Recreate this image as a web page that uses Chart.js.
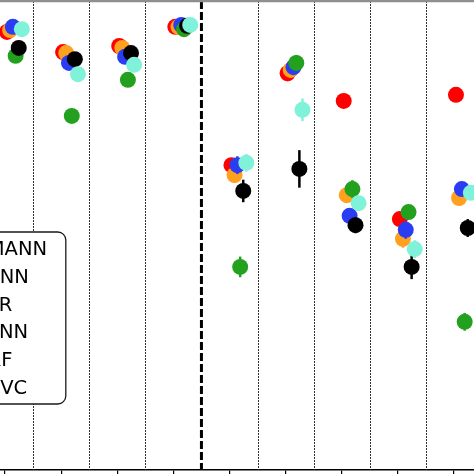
<!DOCTYPE html>
<html>
<head>
<meta charset="utf-8">
<script src="https://cdn.jsdelivr.net/npm/chart.js@4.4.0/dist/chart.umd.min.js"></script>
<style>
  html, body { margin: 0; padding: 0; background: #fff; }
  body { width: 474px; height: 474px; overflow: hidden; position: relative; }
  #chart { position: absolute; left: -200px; top: 0; }
</style>
</head>
<body>
<canvas id="chart" width="760" height="520"></canvas>
<script>
// categories along x (tick labels are cut off below the picture)
const categories = ['C1', 'C2', 'C3', 'C4', 'C5', 'C6', 'C7', 'C8', 'C9'];
const groupSplit = 3.5; // thick dashed line between the two groups

const methods = ['MANN', 'TNN', 'LR', 'FNN', 'RF', 'SVC'];
const colors = ['#ff0000', '#ffa01e', '#2b3df2', '#23a01d', '#000000', '#80f2da'];
const dodge = [0.035, 0.09, 0.14, 0.19, 0.245, 0.3]; // small shift per method inside a category

// scores per method, one per category
const mannVals = [93.4, 89.1, 90.4, 94.5, 65.0, 84.6, 78.7, 53.5, 80.0];
const tnnVals  = [93.8, 88.9, 90.0, 94.5, 62.9, 85.3, 58.6, 49.3, 58.0];
const lrVals   = [94.5, 86.8, 88.1, 94.9, 65.0, 85.9, 54.2, 51.2, 59.9];
const fnnVals  = [88.3, 75.5, 83.2, 94.0, 43.3, 86.8, 59.9, 55.0, 31.6];
const rfVals   = [90.0, 87.6, 88.9, 94.7, 59.5, 64.2, 52.2, 43.3, 51.6];
const svcVals  = [94.0, 84.4, 86.4, 94.9, 65.5, 76.8, 56.9, 47.1, 59.1];

// error bar half lengths
const mannErr = [0.6, 0.6, 0.6, 0.5, 1.1, 1.7, 0.9, 1.3, 0.9];
const tnnErr  = [0.6, 0.6, 0.6, 0.5, 1.7, 1.7, 1.5, 1.9, 1.5];
const lrErr   = [0.6, 0.6, 0.6, 0.5, 1.9, 1.7, 1.3, 1.9, 1.5];
const fnnErr  = [0.6, 0.6, 0.6, 0.5, 2.2, 1.7, 1.9, 1.3, 1.9];
const rfErr   = [0.6, 0.6, 0.6, 0.5, 2.4, 4.0, 1.7, 2.6, 1.9];
const svcErr  = [0.6, 0.6, 0.6, 0.5, 1.9, 2.4, 1.5, 1.9, 1.1];

const allVals = [mannVals, tnnVals, lrVals, fnnVals, rfVals, svcVals];
const allErr = [mannErr, tnnErr, lrErr, fnnErr, rfErr, svcErr];

// vertical error bars, drawn just under each method's markers
const errorBars = {
    id: 'errorBars',
    beforeDatasetDraw(chart, args) {
        const ds = chart.data.datasets[args.index];
        const { x, y } = chart.scales;
        const ctx = chart.ctx;
        ctx.save();
        ctx.strokeStyle = ds.backgroundColor;
        ctx.lineWidth = 2.5;
        ds.data.forEach(p => {
            const px = x.getPixelForValue(p.x);
            ctx.beginPath();
            ctx.moveTo(px, y.getPixelForValue(p.y - p.err));
            ctx.lineTo(px, y.getPixelForValue(p.y + p.err));
            ctx.stroke();
        });
        ctx.restore();
    }
};

// dotted separators between categories + frame top
const separators = {
    id: 'separators',
    beforeDatasetsDraw(chart) {
        const { ctx, chartArea: a } = chart;
        const x = chart.scales.x;
        ctx.save();
        for (let k = -1; k < categories.length; k++) {
            const v = k + 0.5;
            let px = x.getPixelForValue(v);
            ctx.beginPath();
            if (v === groupSplit) {
                ctx.setLineDash([8, 3]);
                ctx.lineWidth = 3;
                ctx.strokeStyle = '#000';
            } else {
                px = Math.round(px) + 0.5; // keep the thin dots crisp
                ctx.setLineDash([2, 1]);
                ctx.lineWidth = 1;
                ctx.strokeStyle = '#333';
            }
            ctx.moveTo(px, a.top);
            ctx.lineTo(px, a.bottom);
            ctx.stroke();
        }
        ctx.setLineDash([]);
        ctx.strokeStyle = '#8f8f8f';
        ctx.lineWidth = 2.5;
        ctx.beginPath();
        ctx.moveTo(a.left, a.top);
        ctx.lineTo(a.right, a.top);
        ctx.stroke();
        ctx.restore();
    }
};

// matplotlib-like legend box with rounded corners
const boxLegend = {
    id: 'boxLegend',
    afterDraw(chart, args, opts) {
        const { ctx, chartArea: a } = chart;
        const l = a.left + opts.left, t = a.top + opts.top, w = opts.width, h = opts.height, r = 8;
        ctx.save();
        ctx.beginPath();
        ctx.moveTo(l + r, t);
        ctx.arcTo(l + w, t, l + w, t + h, r);
        ctx.arcTo(l + w, t + h, l, t + h, r);
        ctx.arcTo(l, t + h, l, t, r);
        ctx.arcTo(l, t, l + w, t, r);
        ctx.closePath();
        ctx.fillStyle = '#fff';
        ctx.fill();
        ctx.strokeStyle = '#1a1a1a';
        ctx.lineWidth = 1.3;
        ctx.stroke();
        ctx.font = '19.5px "DejaVu Sans"';
        ctx.textBaseline = 'alphabetic';
        chart.data.datasets.forEach((ds, i) => {
            const yb = t + opts.firstBaseline + i * opts.rowGap;
            ctx.fillStyle = ds.backgroundColor;
            ctx.beginPath();
            ctx.arc(l + opts.markerX, yb - 7, 8, 0, Math.PI * 2);
            ctx.fill();
            ctx.fillStyle = '#000';
            ctx.fillText(ds.label, l + opts.textX, yb);
        });
        ctx.restore();
    }
};

const datasets = methods.map((name, s) => ({
    label: name,
    data: allVals[s].map((v, i) => ({ x: i + dodge[s], y: v, err: allErr[s][i] })),
    backgroundColor: colors[s],
    borderWidth: 0,
    pointRadius: 8,
    pointHoverRadius: 8,
    order: methods.length - s // later methods drawn on top
}));

new Chart(document.getElementById('chart'), {
    type: 'scatter',
    data: { datasets },
    plugins: [errorBars, separators, boxLegend],
    options: {
        responsive: false,
        animation: false,
        devicePixelRatio: 1,
        layout: { autoPadding: false, padding: { left: 120.8, right: 21.8, top: 1, bottom: 0 } },
        plugins: {
            legend: { display: false },
            tooltip: { enabled: false },
            boxLegend: { left: 9, top: 231, width: 136, height: 172, firstBaseline: 23, rowGap: 27.8, markerX: 29, textX: 58 }
        },
        scales: {
            x: {
                type: 'linear',
                min: -1.5,
                max: 9.5,
                afterBuildTicks: s => { s.ticks = categories.map((c, i) => ({ value: i })); },
                afterFit: s => { s.height = 50; },
                ticks: { display: false },
                grid: { drawOnChartArea: false, drawTicks: true, tickLength: 7, color: '#000', lineWidth: 1.2 },
                border: { display: true, color: '#000', width: 1.5 }
            },
            y: { type: 'linear', min: 0, max: 100, display: false }
        }
    }
});
</script>
</body>
</html>
